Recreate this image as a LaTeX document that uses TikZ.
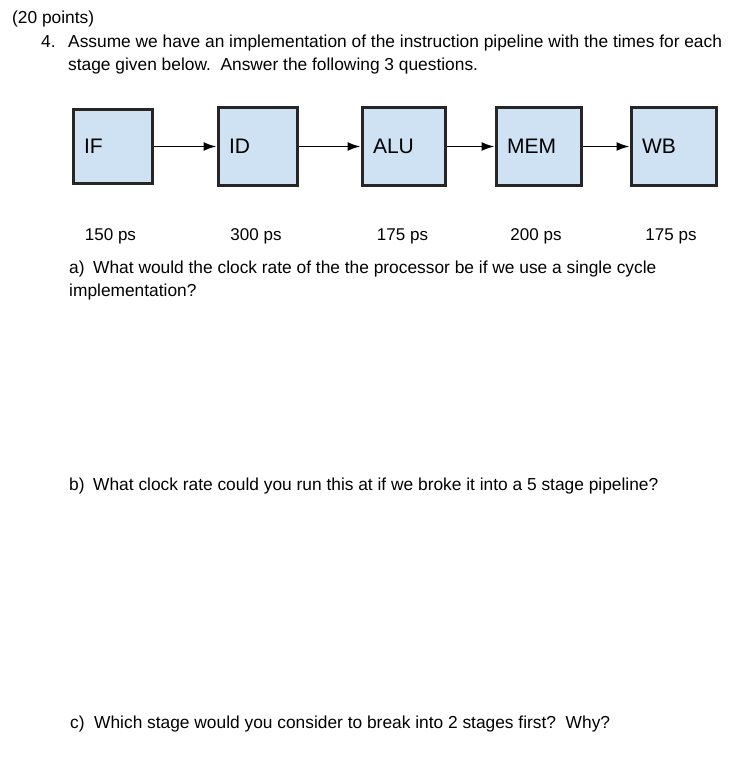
\documentclass[tikz,border=0pt]{standalone}
\usepackage{fontspec}
\setmainfont{Liberation Sans}
\usetikzlibrary{arrows.meta}
\definecolor{stagefill}{RGB}{207,226,243}
\tikzset{
  stage/.style={draw=black!85,line width=3pt,fill=stagefill,align=left,
    inner xsep=11pt,inner ysep=0pt,minimum height=78pt,
    font=\fontsize{21}{25}\selectfont},
  link/.style={line width=1.8pt,-{Latex[length=13pt,width=9pt]}},
  txt/.style={anchor=base west,inner sep=0pt,font=\fontsize{17.35}{23}\selectfont},
  time/.style={anchor=base,inner sep=0pt,font=\fontsize{17}{23}\selectfont}
}

\begin{document}
\begin{tikzpicture}[x=1pt,y=-1pt]
  \useasboundingbox[fill=white] (0,0) rectangle (750,778);
  % heading
  \node[txt] (pts) at (12,24) {(20 points)};
  \node[txt] (num) at (41,48) {4.};
  \node[txt] (q1) at (68,48) {Assume we have an implementation of the instruction pipeline with the times for each};
  \node[txt] (q2) at (68,71) {stage given below.\ \ Answer the following 3 questions.};
  % stages
  \node[stage,minimum height=73pt,text width=57pt] (IF) at (112.5,146.5) {IF};
  \node[stage,text width=57pt] (ID) at (257.5,146.5) {ID};
  \node[stage,text width=61pt] (ALU) at (403.5,146.5) {ALU};
  \node[stage,text width=63pt] (MEM) at (538.5,146.5) {MEM};
  \node[stage,text width=63pt] (WB) at (673.5,146.5) {WB};
  \draw[link] (IF.east) -- (ID.west);
  \draw[link] (ID.east) -- (ALU.west);
  \draw[link] (ALU.east) -- (MEM.west);
  \draw[link] (MEM.east) -- (WB.west);
  % times
  \node[time] (tIF) at (110.5,240) {150 ps};
  \node[time] (tID) at (256,240) {300 ps};
  \node[time] (tALU) at (402.5,240) {175 ps};
  \node[time] (tMEM) at (536,240) {200 ps};
  \node[time] (tWB) at (671,240) {175 ps};
  % questions
  \node[txt] (la) at (69,273) {a)};
  \node[txt] (qa) at (93,273) {What would the clock rate of the the processor be if we use a single cycle};
  \node[txt] (qa2) at (69,296) {implementation?};
  \node[txt] (lb) at (69,490) {b)};
  \node[txt] (qb) at (93,490) {What clock rate could you run this at if we broke it into a 5 stage pipeline?};
  \node[txt] (lc) at (70,728) {c)};
  \node[txt] (qc) at (94,728) {Which stage would you consider to break into 2 stages first?\ \ Why?};
\end{tikzpicture}
\end{document}
